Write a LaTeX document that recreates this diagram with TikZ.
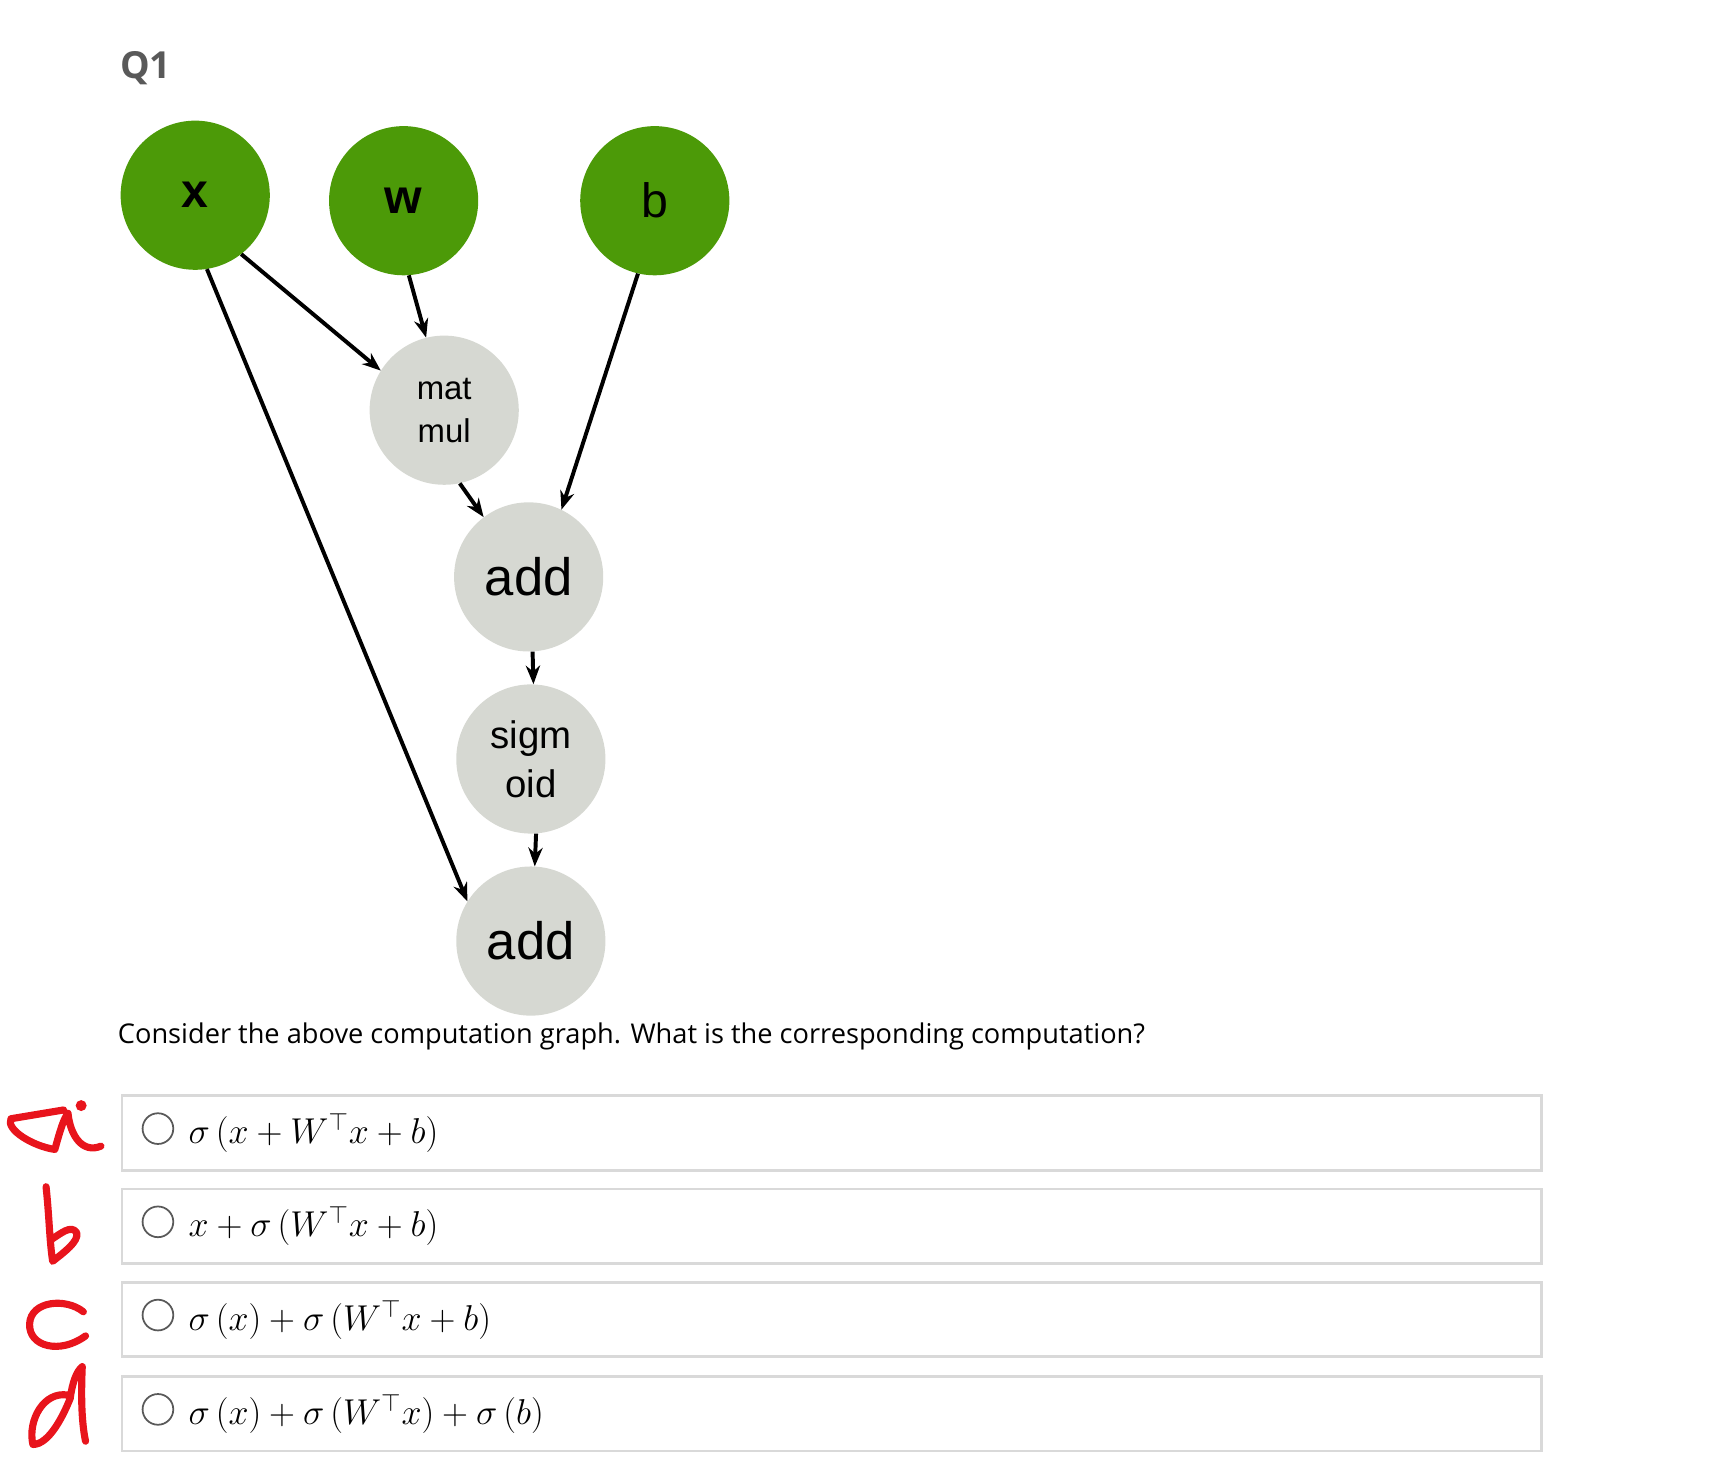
\documentclass[tikz,border=0pt]{standalone}
\usepackage{fontspec}
\setmainfont{Liberation Sans}
\newfontfamily\uifont{Open Sans}
\usetikzlibrary{arrows.meta}
\definecolor{gr}{HTML}{4C9A08}
\definecolor{gy}{HTML}{D6D8D2}
\definecolor{hand}{HTML}{E8141C}
\begin{document}
\begin{tikzpicture}[x=1pt,y=-1pt,
  inp/.style={circle,fill=gr,minimum size=136pt,inner sep=0pt,font=\fontsize{44}{48}\selectfont},
  op/.style={circle,fill=gy,minimum size=136pt,inner sep=0pt,align=center},
  edge/.style={-{Stealth[length=17pt,width=13pt]},line width=3.6pt},
  opt/.style={draw=black!15,line width=2.5pt},
  radio/.style={circle,draw=black!65,line width=1.6pt,minimum size=28pt,inner sep=0pt},
  hw/.style={hand,line width=6.5pt,line cap=round,line join=round}]
\useasboundingbox (0,0) rectangle (1560,1351);
\node[anchor=west,font=\uifont\bfseries\fontsize{34}{38}\selectfont,text=black!65] (q) at (106,62) {Q1};
\node[inp] (x) at (178,178) {\textbf{x}};
\node[inp] (w) at (368,183) {\textbf{w}};
\node[inp] (b) at (597,183) {b};
\node[op,font=\fontsize{30}{39}\selectfont] (mm) at (405,374) {mat\\mul};
\node[op,font=\fontsize{48}{50}\selectfont] (a1) at (482,526) {add};
\node[op,font=\fontsize{35}{45}\selectfont] (sg) at (484,692) {sigm\\oid};
\node[op,font=\fontsize{48}{50}\selectfont] (a2) at (484,858) {add};
\draw[edge] (x.-52) -- (mm.148);
\draw[edge] (w.-86) -- (mm.104);
\draw[edge] (b.-103) -- (a1.64);
\draw[edge] (x.-81) -- (a2.148);
\draw[edge] (mm.-78) -- (a1.127);
\draw[edge] (a1.-87) -- (sg.88);
\draw[edge] (sg.-86) -- (a2.87);
\node[anchor=west,font=\uifont\fontsize{24.8}{28}\selectfont] (qt) at (104,945) {Consider the above computation graph. What is the corresponding computation?};
\foreach \i/\y/\f in {1/1033/{$\sigma\,(x+W^\top x+b)$},2/1118/{$x+\sigma\,(W^\top x+b)$},3/1203/{$\sigma\,(x)+\sigma\,(W^\top x+b)$},4/1289/{$\sigma\,(x)+\sigma\,(W^\top x)+\sigma\,(b)$}}{
  \node[opt,minimum width=1294pt,minimum height=68pt,anchor=west] (box\i) at (110,\y) {};
  \node[radio] (r\i) at (144,\y-4) {};
  \node[anchor=west,font=\huge,scale=1.58,transform shape,inner sep=1pt] (f\i) at (170,\y) {\f};
}
% handwritten a
\draw[hw] (58,1012) -- (10,1020) .. controls (5,1030) and (30,1045) .. (50,1048) .. controls (55,1030) and (58,1020) .. (62,1015) .. controls (64,1035) and (75,1052) .. (92,1045);
\fill[hand] (74,1008) circle (5pt);
% b
\draw[hw] (42,1082) .. controls (45,1110) and (45,1130) .. (48,1150) .. controls (58,1142) and (72,1132) .. (70,1124) .. controls (65,1116) and (55,1125) .. (47,1130);
% c
\draw[hw] (76,1196) .. controls (60,1183) and (28,1186) .. (27,1207) .. controls (26,1228) and (55,1235) .. (78,1218);
% d
\draw[hw] (62,1272) .. controls (40,1268) and (25,1295) .. (30,1317) .. controls (45,1317) and (58,1290) .. (64,1275) .. controls (66,1260) and (70,1250) .. (75,1246) .. controls (74,1270) and (74,1295) .. (78,1314);
\end{tikzpicture}
\end{document}
